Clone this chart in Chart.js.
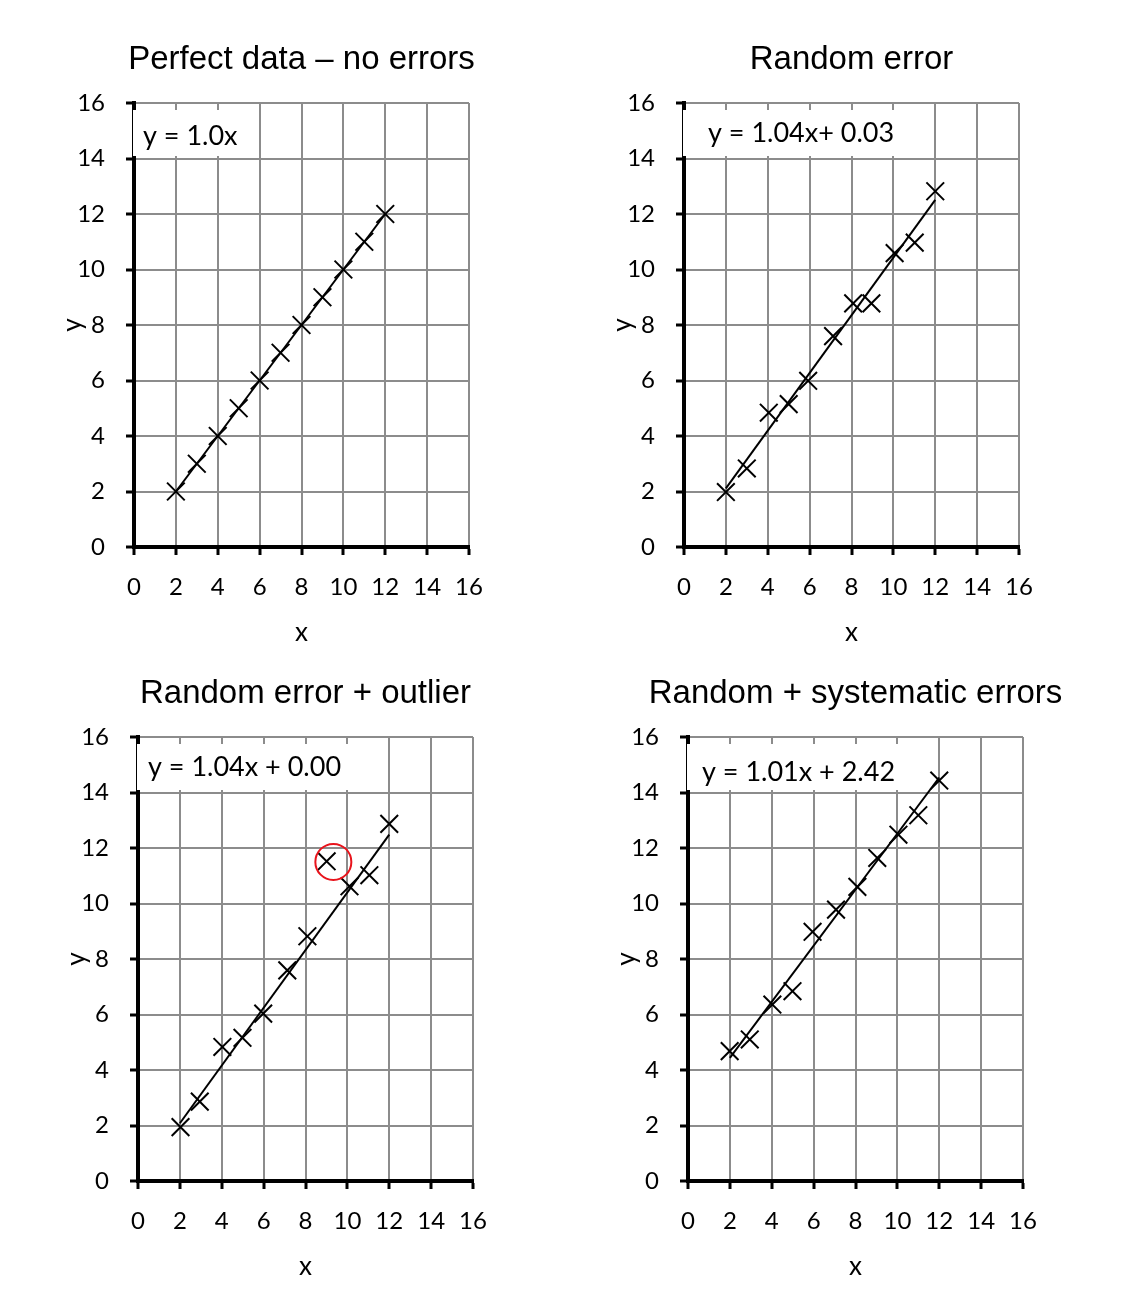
<!DOCTYPE html>
<html>
<head>
<meta charset="utf-8">
<script src="https://cdn.jsdelivr.net/npm/chart.js@4.4.1/dist/chart.umd.min.js"></script>
<style>
    body { margin: 0; background: #fff; overflow: hidden; }
    #wrap { position: relative; width: 1130px; height: 1302px; overflow: hidden; }
    canvas { position: absolute; }
</style>
</head>
<body>
<div id="wrap">
    <canvas id="perfectChart" width="565" height="651" style="left:0px;top:0px"></canvas>
    <canvas id="randomChart" width="565" height="651" style="left:550px;top:0px"></canvas>
    <canvas id="outlierChart" width="565" height="651" style="left:4px;top:634px"></canvas>
    <canvas id="systematicChart" width="565" height="651" style="left:554px;top:634px"></canvas>
</div>
<script>
// axis ticks
const tickValues = [0, 2, 4, 6, 8, 10, 12, 14, 16];

// Perfect data - no errors
const perfectX = [2, 3, 4, 5, 6, 7, 8, 9, 10, 11, 12];
const perfectY = [2, 3, 4, 5, 6, 7, 8, 9, 10, 11, 12];
const perfectFitX = [2, 12];
const perfectFitY = [2, 12];

// Random error
const randomX = [2, 3, 4.05, 5, 5.93, 7.12, 8.08, 8.95, 10.06, 11.02, 12];
const randomY = [1.98, 2.83, 4.84, 5.15, 5.99, 7.6, 8.78, 8.78, 10.59, 10.97, 12.82];
const randomFitX = [2, 12];
const randomFitY = [2.11, 12.51];

// Random error + outlier
const outlierX = [2.03, 2.95, 4.03, 4.99, 5.98, 7.13, 8.09, 9.01, 10.1, 11.05, 12];
const outlierY = [1.94, 2.86, 4.83, 5.16, 6.03, 7.59, 8.82, 11.52, 10.62, 11.02, 12.87];
const outlierFitX = [2, 12];
const outlierFitY = [2.08, 12.48];
const outlierMarkX = [9.33];
const outlierMarkY = [11.5];

// Random + systematic errors
const systX = [1.99, 2.95, 4.03, 4.99, 5.95, 7.07, 8.09, 9.04, 10.05, 11, 12];
const systY = [4.68, 5.1, 6.36, 6.84, 8.98, 9.78, 10.6, 11.64, 12.48, 13.18, 14.43];
const systFitX = [2, 12];
const systFitY = [4.44, 14.54];

const toPoints = (xs, ys) => xs.map((x, i) => ({ x: x, y: ys[i] }));

// white box with the fitted equation, drawn over the grid
const eqBoxPlugin = {
    id: 'eqBox',
    beforeDatasetsDraw(chart, args, opts) {
        const { ctx, chartArea: a } = chart;
        ctx.save();
        ctx.font = '27px Lato';
        const w = ctx.measureText(opts.text).width;
        ctx.fillStyle = '#fff';
        ctx.fillRect(a.left - 1, a.top + 7, opts.dx + w + 10, 46);
        ctx.fillStyle = '#000';
        ctx.textBaseline = 'middle';
        ctx.fillText(opts.text, a.left + opts.dx, a.top + opts.dy);
        ctx.restore();
    }
};

// panel title centred over the plot area (not over the whole canvas)
const panelTitlePlugin = {
    id: 'panelTitle',
    afterDraw(chart, args, opts) {
        const { ctx, chartArea: a } = chart;
        ctx.save();
        ctx.font = '33px "Liberation Sans"';
        ctx.fillStyle = '#000';
        ctx.textAlign = 'center';
        ctx.textBaseline = 'middle';
        ctx.fillText(opts.text, (a.left + a.right) / 2, 60);
        ctx.restore();
    }
};

function axisOptions(titleText, isY) {
    return {
        type: 'linear',
        min: 0,
        max: 16,
        afterBuildTicks: (scale) => { scale.ticks = tickValues.map(v => ({ value: v })); },
        ticks: {
            color: '#000',
            font: { family: 'Lato', size: 24 },
            padding: isY ? 21 : 18,
            maxRotation: 0,
            autoSkip: false
        },
        grid: {
            color: '#8c8c8c',
            lineWidth: 2,
            tickColor: '#000',
            tickLength: 8,
            tickWidth: 3
        },
        border: { color: '#000', width: 4 },
        title: {
            display: true,
            text: titleText,
            color: '#000',
            font: { family: 'Lato', size: 26 },
            padding: isY ? { top: 57, bottom: 0 } : { top: 0, bottom: 3 }
        },
        afterFit: (scale) => {
            if (isY) scale.width = 134; else scale.height = 104;
        }
    };
}

function makePanel(id, title, xs, ys, fitX, fitY, eq, extra) {
    const ctx = document.getElementById(id).getContext('2d');
    const datasets = [{
        data: toPoints(xs, ys),
        pointStyle: 'crossRot',
        pointRadius: 12.5,
        borderColor: '#000',
        borderWidth: 2,
        order: 1
    }, {
        data: toPoints(fitX, fitY),
        showLine: true,
        borderColor: '#000',
        borderWidth: 2,
        pointRadius: 0,
        order: 2
    }];
    if (extra) datasets.push(extra);
    new Chart(ctx, {
        type: 'scatter',
        data: { datasets: datasets },
        plugins: [eqBoxPlugin, panelTitlePlugin],
        options: {
            responsive: false,
            animation: false,
            events: [],
            layout: { padding: { left: 0, right: 96, top: 103, bottom: 0 } },
            plugins: {
                legend: { display: false },
                tooltip: { enabled: false },
                title: { display: false },
                panelTitle: { text: title },
                eqBox: eq
            },
            scales: {
                x: axisOptions('x', false),
                y: axisOptions('y', true)
            }
        }
    });
}

makePanel('perfectChart', 'Perfect data \u2013 no errors', perfectX, perfectY, perfectFitX, perfectFitY,
    { text: 'y = 1.0x', dx: 9, dy: 33 });

makePanel('randomChart', 'Random error', randomX, randomY, randomFitX, randomFitY,
    { text: 'y = 1.04x+ 0.03', dx: 24, dy: 30 });

makePanel('outlierChart', 'Random error + outlier', outlierX, outlierY, outlierFitX, outlierFitY,
    { text: 'y = 1.04x + 0.00', dx: 10, dy: 30 },
    {
        data: toPoints(outlierMarkX, outlierMarkY),
        pointStyle: 'circle',
        pointRadius: 18,
        backgroundColor: 'rgba(0,0,0,0)',
        borderColor: '#e8141c',
        borderWidth: 2,
        order: 0
    });

makePanel('systematicChart', 'Random + systematic errors', systX, systY, systFitX, systFitY,
    { text: 'y = 1.01x + 2.42', dx: 14, dy: 35 });
</script>
</body>
</html>
